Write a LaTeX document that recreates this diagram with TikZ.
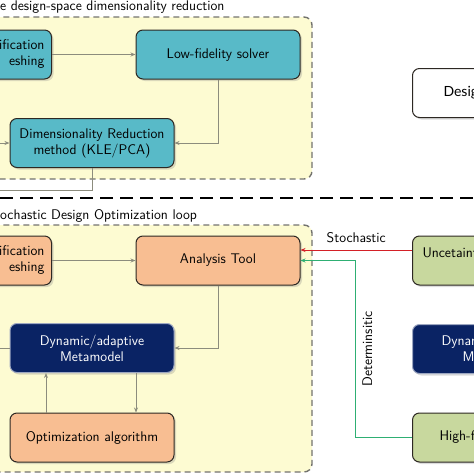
\documentclass[tikz,border=0pt]{standalone}
\usepackage{fontspec}
\newfontfamily\designfont{Lato}
\usetikzlibrary{arrows.meta,shadows}

\definecolor{boxcyan}{RGB}{88,186,200}
\definecolor{boxorange}{RGB}{248,190,146}
\definecolor{boxnavy}{RGB}{10,35,100}
\definecolor{boxgreen}{RGB}{200,216,158}
\definecolor{boxline}{RGB}{45,40,35}
\definecolor{regionfill}{RGB}{253,251,210}
\definecolor{regionline}{RGB}{115,115,110}
\definecolor{flowgray}{RGB}{140,140,125}
\definecolor{stochred}{RGB}{212,32,39}
\definecolor{detgreen}{RGB}{46,175,115}

\tikzset{
    txt/.style={font=\sffamily\fontsize{14}{16}\selectfont},
    block/.style={txt, draw=boxline, line width=1pt, rounded corners=7pt,
        minimum height=49pt, text width=150pt, inner xsep=7pt, align=center,
        drop shadow={shadow xshift=2pt, shadow yshift=-2pt, opacity=0.28}},
    cutleft/.style={anchor=east, text width=100pt, inner xsep=7pt, align=right},
    cutright/.style={anchor=west, text width=144pt, inner xsep=10pt, align=left},
    region/.style={draw=regionline, fill=regionfill, line width=1.4pt,
        dash pattern=on 6pt off 4pt, rounded corners=8pt},
    flow/.style={draw=flowgray, line width=0.9pt, -{Stealth[length=5pt,width=4pt]}},
    plain/.style={draw=flowgray, line width=0.9pt},
}

\begin{document}
\begin{tikzpicture}[x=1pt, y=-1pt]
    \useasboundingbox (0,0) rectangle (474,474);
    \clip (0,0) rectangle (474,474);
    % Design-space dimensionality reduction
    \draw[region] (-20,17) rectangle (312,179);
    \node[txt, anchor=base west, inner sep=0pt] (Title-1) at (0,10.8) {e design-space dimensionality reduction};
    \node[block, fill=boxcyan, cutleft] (Reduce-1) at (52,54.5) {ification\\eshing\hspace*{9pt}};
    \node[block, fill=boxcyan] (Reduce-2) at (218,54.5) {Low-fidelity solver};
    \node[block, fill=boxcyan] (Reduce-3) at (92,143) {Dimensionality Reduction\\method (KLE/PCA)};
    \node[block, fill=white, cutright, font=\designfont\fontsize{14}{16}\selectfont] (Design-1) at (412,93) {\hspace*{21pt}Desig};
    \coordinate (Feed-1) at (-10,143);
    \coordinate (Feed-2) at (-10,190);

    % Separator
    \draw[line width=2.6pt, dash pattern=on 13pt off 7pt] (0,198) -- (474,198);

    % Stochastic design optimization loop
    \draw[region] (-20,225) rectangle (312,472);
    \node[txt, anchor=base west, inner sep=0pt] (Title-2) at (0,219) {ochastic Design Optimization loop};
    \node[block, fill=boxorange, cutleft] (Loop-1) at (52,260.5) {ification\\eshing\hspace*{9pt}};
    \node[block, fill=boxorange] (Loop-2) at (218,260.5) {Analysis Tool};
    \node[block, fill=boxnavy, draw=boxnavy!40!white, text=white] (Loop-3) at (92,348) {Dynamic/adaptive\\Metamodel};
    \node[block, fill=boxorange] (Loop-4) at (92,437.5) {Optimization algorithm};
    \coordinate (Feed-3) at (-10,348);

    % Solvers on the right
    \node[block, fill=boxgreen, cutright] (Source-1) at (412,260.5) {Uncetaint\\\mbox{}};
    \node[block, fill=boxnavy, draw=boxnavy!40!white, text=white, cutright] (Source-2) at (412,349) {\hspace*{19pt}Dynam\\\hspace*{40pt}M};
    \node[block, fill=boxgreen, cutright] (Source-3) at (412,437.5) {\hspace*{17pt}High-f};

    % Arrows
    \draw[flow] (Feed-1) -- (Reduce-3.west);
    \draw[plain] (Reduce-3.south) |- (Feed-2);
    \draw[flow] (Reduce-1.east) -- (Reduce-2.west);
    \draw[flow] (Reduce-2.south) |- (Reduce-3.east);
    \draw[flow] (Loop-1.east) -- (Loop-2.west);
    \draw[flow] (Loop-2.south) |- (Loop-3.east);
    \draw[plain] (Loop-3.west) -- (Feed-3);
    \draw[flow] ([xshift=-46pt]Loop-4.north) -- ([xshift=-46pt]Loop-3.south);
    \draw[flow] ([xshift=44pt]Loop-3.south) -- ([xshift=44pt]Loop-4.north);
    \draw[stochred, line width=0.9pt, -{Stealth[length=5pt,width=4pt]}] ([yshift=10.5pt]Source-1.west) -- node[txt, text=black, above=3pt] {Stochastic} ([yshift=10.5pt]Loop-2.east);
    \draw[detgreen, line width=0.9pt, -{Stealth[length=5pt,width=4pt]}] (Source-3.west) -- ++(-57,0) |- node[txt, text=black, pos=0.25, rotate=90, below=3.5pt] {Determinsitic} (Loop-2.east);
\end{tikzpicture}
\end{document}
